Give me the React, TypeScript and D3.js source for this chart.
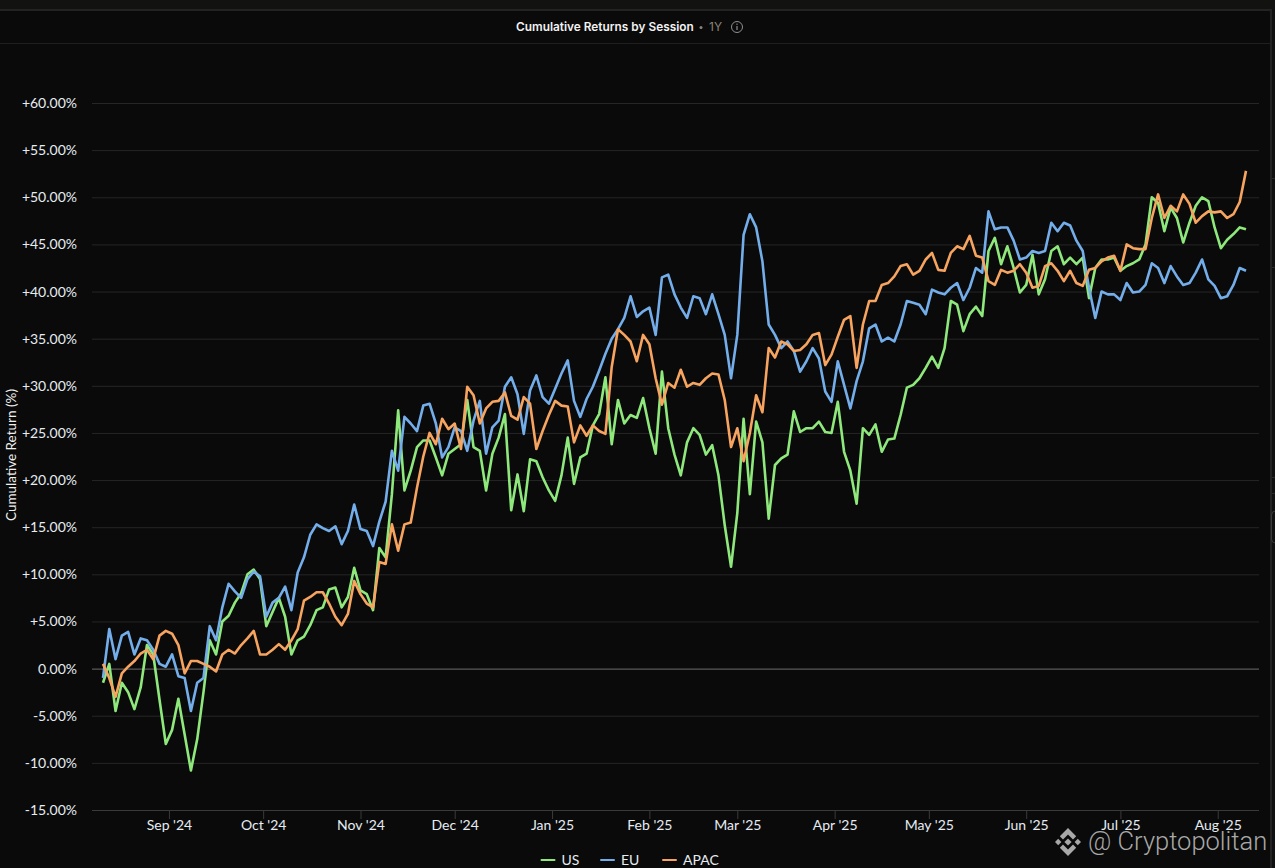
import { useEffect, useRef } from "react";
import * as d3 from "d3";

const WIDTH = 1275;
const HEIGHT = 868;

// one reading every two days from the first date
const START_DATE = new Date(Date.UTC(2024, 7, 11));
const END_DATE = new Date(Date.UTC(2025, 7, 10));

const usValues = [
	-1.5, 0.5, -4.5, -1.5, -2.5, -4.3, -2, 2.5, 1.5, -3.3,
	-8, -6.5, -3.2, -7, -10.8, -7.5, -2.5, 3, 1.5, 5,
	5.6, 7, 8, 10, 10.5, 9.5, 4.5, 6, 7.5, 5.5,
	1.5, 3, 3.4, 4.6, 6.2, 6.5, 8.4, 8.6, 6.5, 7.6,
	10.7, 8.3, 7.9, 6.2, 12.8, 11.8, 18.5, 27.4, 18.9, 21,
	23.5, 24.2, 24.2, 22.4, 20.5, 22.8, 23.3, 23.8, 28.5, 23.5,
	23.1, 18.9, 22.8, 24.5, 27, 16.8, 20.6, 16.7, 22.2, 22,
	20.3, 18.9, 17.8, 20.5, 24.5, 19.6, 22.4, 22.8, 25.8, 27,
	30.9, 23.8, 28.5, 26, 26.9, 26.6, 28.7, 25.5, 22.8, 31.5,
	25.5, 22.7, 20.5, 24, 25.5, 24.8, 22.7, 23.7, 20.5, 15.2,
	10.8, 16.5, 26.5, 18.5, 26.2, 24, 15.9, 21.6, 22.3, 22.7,
	27.3, 25.1, 25.5, 25.5, 26.2, 25.1, 25, 28.3, 23, 21,
	17.5, 25.5, 24.8, 25.9, 23, 24.3, 24.4, 26.9, 29.8, 30.1,
	30.8, 31.9, 33.1, 31.9, 34, 39, 38.6, 35.8, 37.6, 38.4,
	37.4, 44.3, 45.7, 42.9, 44.8, 42.5, 39.9, 40.7, 43.9, 39.7,
	41.3, 44.3, 44.8, 42.9, 43.6, 42.9, 43.6, 39.3, 42.5, 43.4,
	43.4, 43.6, 42.2, 42.7, 43, 43.4, 45, 50, 49.4, 46.4,
	48.9, 47.8, 45.2, 47.3, 49.1, 50, 49.6, 46.8, 44.6, 45.5,
	46.1, 46.8, 46.6,
];

const euValues = [
	-1, 4.2, 1, 3.5, 3.9, 1.5, 3.2, 3, 2, 0.5,
	0.2, 1.5, -0.8, -1, -4.5, -1.5, -1, 4.5, 3, 6.5,
	9, 8.2, 7.5, 9.5, 10.3, 9.8, 5.5, 7, 7.5, 8.7,
	6.2, 10.2, 11.8, 14.2, 15.3, 14.9, 14.6, 15.1, 13.2, 14.6,
	17.4, 14.8, 14.6, 13, 15.6, 17.7, 23.1, 21, 26.7, 26,
	25.2, 27.9, 28.1, 26, 22.4, 23.5, 25.6, 25.2, 23.1, 26.3,
	28.4, 22.8, 25.6, 26.3, 29.9, 30.9, 29.1, 24.9, 29.5, 31.1,
	28.8, 28.1, 29.7, 31.3, 32.7, 28.4, 26.7, 28.6, 29.9, 31.6,
	33.4, 35, 36, 37.2, 39.5, 37.3, 37.9, 38.3, 35.4, 41.5,
	41.8, 39.7, 38.3, 37.2, 39.5, 39.3, 37.6, 39.7, 37.6, 35.4,
	30.8, 35.4, 46, 48.2, 46.8, 43.2, 36.5, 35.4, 34, 34.7,
	33.7, 31.5, 32.6, 34, 32.9, 29.4, 28.3, 32.6, 30.1, 27.6,
	30.5, 32.6, 36.1, 36.5, 34.7, 35.1, 34.7, 36.5, 39, 38.8,
	38.6, 37.6, 40.2, 39.9, 39.7, 40.4, 40.9, 39.1, 40.4, 42.5,
	42, 48.5, 46.6, 46.8, 46.8, 45.4, 43.4, 43.6, 44.3, 44.1,
	44.3, 47.3, 46.4, 47.3, 47, 45.4, 44.3, 40.4, 37.2, 40,
	39.7, 39.7, 39.1, 40.9, 39.9, 40, 40.7, 43, 42.5, 40.9,
	42.7, 41.6, 40.7, 40.9, 42, 43.4, 41.3, 40.6, 39.3, 39.5,
	40.7, 42.5, 42.2,
];

const apacValues = [
	0.5, -1, -3, -0.5, 0.2, 0.8, 1.6, 2, 1, 3.5,
	4, 3.7, 2.5, -0.5, 0.8, 0.8, 0.5, 0.2, -0.3, 1.5,
	2, 1.6, 2.5, 3.2, 4, 1.5, 1.5, 2, 2.6, 2,
	3, 4.2, 7.2, 7.6, 8.1, 8.1, 6.9, 5.5, 4.6, 5.8,
	9.3, 7.9, 6.9, 6.5, 11.3, 11.1, 15.3, 12.5, 15.3, 15.5,
	19.2, 22.5, 25, 23.8, 26.5, 25.4, 26, 23.3, 29.9, 29,
	26, 27.6, 28.3, 28.4, 29.3, 26.8, 26.4, 28.8, 28.1, 23.3,
	25.2, 26.9, 28.4, 27.9, 27.8, 24, 25.8, 24.7, 25.8, 25.2,
	24.9, 32, 36, 35.4, 34.7, 32.6, 35.4, 34.4, 30.8, 28,
	30.3, 29.8, 31.7, 29.9, 30.3, 30.1, 30.8, 31.3, 31.2, 28.5,
	23.5, 25.5, 22, 25, 29, 27.2, 34, 33, 34.7, 34.4,
	33.7, 33.8, 34.4, 35.4, 35.6, 32.2, 33.3, 35.2, 37, 37.4,
	31.9, 36.5, 39, 39, 40.7, 40.9, 41.6, 42.7, 42.9, 41.8,
	42.2, 43.4, 44.1, 42.3, 42.2, 44.1, 44.8, 44.5, 45.9, 43.8,
	43.6, 41.1, 40.7, 42.3, 42, 42.2, 42.9, 42, 40.4, 40.6,
	42.7, 43, 42.2, 41.1, 42.2, 40.9, 40.6, 42.3, 42.5, 43.2,
	43.6, 43.8, 42.2, 45, 44.6, 44.5, 44.5, 47.8, 50.3, 47.8,
	49.1, 48.5, 50.3, 49.3, 47.3, 48, 48.5, 48.4, 48.5, 47.8,
	48.2, 49.5, 52.8,
];

const seriesNames = ["US", "EU", "APAC"];
const seriesColors = ["#8fe87c", "#74aeea", "#f6a45f"];
const yTicks = [-15, -10, -5, 0, 5, 10, 15, 20, 25, 30, 35, 40, 45, 50, 55, 60];

const FONT = "Lato, sans-serif";

export default function App() {
	const svgRef = useRef<SVGSVGElement>(null);

	useEffect(() => {
		if (!svgRef.current) return;

		const svg = d3.select(svgRef.current);
		svg.selectAll("*").remove();

		// page furniture
		svg.append("rect").attr("width", WIDTH).attr("height", HEIGHT).attr("fill", "#0a0a0a");
		svg.append("rect").attr("width", WIDTH).attr("height", 9).attr("fill", "#121211");
		svg.append("rect").attr("y", 9).attr("width", WIDTH).attr("height", 2).attr("fill", "#232322");
		svg.append("rect").attr("y", 43).attr("width", 1270).attr("height", 1).attr("fill", "#1f1f1f");
		svg.append("rect").attr("x", 1270).attr("y", 9).attr("width", 2).attr("height", HEIGHT).attr("fill", "#232323");
		svg.append("rect").attr("x", 1272).attr("y", 9).attr("width", 3).attr("height", HEIGHT).attr("fill", "#101010");
		[178, 267, 477, 493].forEach((y) => {
			svg.append("rect").attr("x", 1272).attr("y", y).attr("width", 3).attr("height", 1).attr("fill", "#2a2a2a");
		});
		svg.append("rect")
			.attr("x", 1271.5).attr("y", 511).attr("width", 8).attr("height", 32).attr("rx", 4)
			.attr("fill", "none").attr("stroke", "#3a3a3a");

		// title row
		svg.append("text")
			.attr("x", 516).attr("y", 31)
			.attr("font-family", "Inter, sans-serif").attr("font-size", 11.85)
			.attr("font-weight", 600).attr("fill", "#f2f2f2")
			.text("Cumulative Returns by Session");
		svg.append("circle").attr("cx", 701).attr("cy", 27.5).attr("r", 1.5).attr("fill", "#8a8378");
		svg.append("text")
			.attr("x", 709).attr("y", 31)
			.attr("font-family", "Inter, sans-serif").attr("font-size", 12)
			.attr("fill", "#8a8378").text("1Y");
		svg.append("circle")
			.attr("cx", 737).attr("cy", 27).attr("r", 5.5)
			.attr("fill", "none").attr("stroke", "#8f8f8f");
		svg.append("rect").attr("x", 736.4).attr("y", 26).attr("width", 1.2).attr("height", 4).attr("fill", "#8f8f8f");
		svg.append("rect").attr("x", 736.4).attr("y", 23.6).attr("width", 1.2).attr("height", 1.2).attr("fill", "#8f8f8f");

		// scales
		const xScale = d3.scaleUtc().domain([START_DATE, END_DATE]).range([103, 1246]);
		const yScale = d3.scaleLinear().domain([-15, 60]).range([810, 103]);

		// y axis with gridlines
		const yAxis = d3.axisLeft(yScale)
			.tickValues(yTicks)
			.tickSize(-1167)
			.tickPadding(15)
			.tickFormat((d) => {
				const v = Number(d);
				return `${v > 0 ? "+" : ""}${v.toFixed(2)}%`;
			});
		const yG = svg.append("g").attr("transform", "translate(92,0)").call(yAxis);
		yG.select(".domain").remove();
		yG.selectAll<SVGLineElement, number>(".tick line")
			.attr("stroke", (d) => (d === 0 ? "#6e6e6e" : d === -15 ? "#3a3a3a" : "#262626"));
		yG.selectAll(".tick text")
			.attr("fill", "#e6ecf2")
			.attr("font-family", FONT)
			.attr("font-size", 14);

		// x axis
		const xAxis = d3.axisBottom(xScale)
			.ticks(d3.utcMonth.every(1))
			.tickSize(9)
			.tickPadding(1)
			.tickFormat((d) => d3.utcFormat("%b '%y")(d as Date));
		const xG = svg.append("g").attr("transform", "translate(0,810)").call(xAxis);
		xG.select(".domain").remove();
		xG.selectAll(".tick line").attr("stroke", "#3a3a3a");
		xG.selectAll(".tick text")
			.attr("fill", "#e6ecf2")
			.attr("font-family", FONT)
			.attr("font-size", 14);

		// axis title
		svg.append("text")
			.attr("transform", "translate(16,455) rotate(-90)")
			.attr("text-anchor", "middle")
			.attr("fill", "#f0f0f0")
			.attr("font-family", FONT)
			.attr("font-size", 13.5)
			.text("Cumulative Return (%)");

		// series
		const line = d3.line<number>()
			.x((_, i) => xScale(d3.utcDay.offset(START_DATE, i * 2)))
			.y((d) => yScale(d));

		[usValues, euValues, apacValues].forEach((values, i) => {
			svg.append("path")
				.datum(values)
				.attr("fill", "none")
				.attr("stroke", seriesColors[i])
				.attr("stroke-width", 2.6)
				.attr("stroke-linejoin", "round")
				.attr("d", line);
		});

		// legend
		const legendX = [540.5, 600, 662];
		seriesNames.forEach((name, i) => {
			svg.append("rect")
				.attr("x", legendX[i]).attr("y", 859)
				.attr("width", 15).attr("height", 2).attr("rx", 1)
				.attr("fill", seriesColors[i]);
			svg.append("text")
				.attr("x", legendX[i] + 21).attr("y", 865)
				.attr("fill", "#e6ecf2")
				.attr("font-family", FONT)
				.attr("font-size", 14)
				.text(name);
		});

		// watermark
		const mark = svg.append("g").attr("transform", "translate(1068,842)").attr("fill", "#a8a8a8");
		mark.append("path").attr("d", "M0,-3.6 L3.6,0 L0,3.6 L-3.6,0 Z");
		mark.append("path").attr("d", "M-13,0 L-9.8,-3.2 L-6.6,0 L-9.8,3.2 Z");
		mark.append("path").attr("d", "M13,0 L9.8,-3.2 L6.6,0 L9.8,3.2 Z");
		mark.append("path").attr("d", "M0,-14 L8.2,-5.8 L5,-2.6 L0,-7.6 L-5,-2.6 L-8.2,-5.8 Z");
		mark.append("path").attr("d", "M0,14 L8.2,5.8 L5,2.6 L0,7.6 L-5,2.6 L-8.2,5.8 Z");
		svg.append("text")
			.attr("x", 1088).attr("y", 850)
			.attr("fill", "#a8a8a8")
			.attr("font-family", "Roboto, sans-serif")
			.attr("font-weight", 300)
			.attr("font-size", 25.5)
			.text("@ Cryptopolitan");
	}, []);

	return (
		<svg
			ref={svgRef}
			width={WIDTH}
			height={HEIGHT}
			style={{ position: "absolute", left: 0, top: 0 }}
		/>
	);
}
